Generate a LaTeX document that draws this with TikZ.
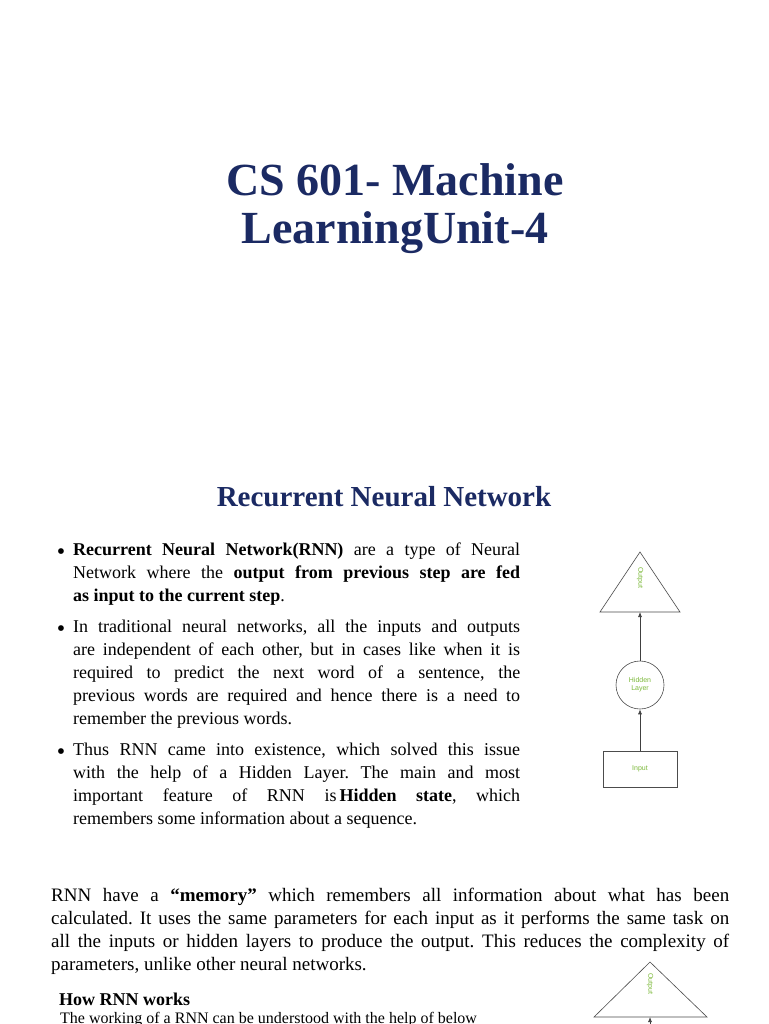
\documentclass[tikz,border=0pt]{standalone}
\usepackage{fontspec}
\setmainfont{Liberation Serif}
\newfontfamily\diagfont{Liberation Sans}
\usetikzlibrary{shapes.geometric,arrows.meta}
\definecolor{navy}{HTML}{1B2A63}
\definecolor{lbl}{HTML}{7CB93A}
\frenchspacing
\tikzset{
  titletxt/.style={text=navy,font=\bfseries\fontsize{46}{50}\selectfont,align=center},
  para/.style={anchor=north west,inner sep=0pt,align=justify,font=\fontsize{18}{23}\selectfont},
  dlabel/.style={text=lbl,font=\diagfont\fontsize{7}{9}\selectfont},
  conn/.style={draw=black!75,line width=0.7pt,-{Latex[length=5pt,width=4pt]}},
  shp/.style={draw=black!70,line width=0.6pt}
}
\begin{document}
\begin{tikzpicture}[x=1pt,y=-1pt]
\useasboundingbox[fill=white] (0,0) rectangle (768,1024);
\node[titletxt] (t1) at (395,180) {CS 601- Machine};
\node[titletxt] (t2) at (395,233) {LearningUnit-4};
\node[text=navy,font=\bfseries\fontsize{29}{32}\selectfont] (h) at (384,497) {Recurrent Neural Network};
\node[para,text width=447pt] (b1) at (73,543) {\textbf{Recurrent Neural Network(RNN)} are a type of Neural\linebreak Network where the \textbf{output from previous step are fed}\linebreak \textbf{as input to the current step}.};
\node[para,text width=447pt] (b2) at (73,620) {In traditional neural networks, all the inputs and outputs\linebreak are independent of each other, but in cases like when it is\linebreak required to predict the next word of a sentence, the\linebreak previous words are required and hence there is a need to\linebreak remember the previous words.};
\node[para,text width=447pt] (b3) at (73,743) {Thus RNN came into existence, which solved this issue\linebreak with the help of a Hidden Layer. The main and most\linebreak important feature of RNN is\,\textbf{Hidden state}, which\linebreak remembers some information about a sequence.};
\foreach \y in {554,631,754} \node[font=\fontsize{24}{24}\selectfont] at (61,\y) {•};
% diagram 1
\coordinate (ta) at (640,552);
\draw[shp] (ta) -- (680,612) -- (600,612) -- cycle;
\node[dlabel,rotate=-90] (out1) at (640,578) {Output};
\coordinate (tb) at (640,612);
\node[shp,circle,minimum size=48pt,inner sep=0pt,dlabel,align=center,font=\diagfont\fontsize{7}{8}\selectfont] (hid) at (640,685) {Hidden\\Layer};
\node[shp,rectangle,minimum width=74pt,minimum height=36pt,dlabel] (inp) at (640,769) {Input};
\draw[conn] (inp.north) -- (hid.south);
\draw[conn] (hid.north) -- (tb);
% paragraph
\node[para,text width=678pt,font=\fontsize{19}{23}\selectfont] (p) at (51,888) {RNN have a \textbf{“memory”} which remembers all information about what has been\linebreak calculated. It uses the same parameters for each input as it performs the same task on\linebreak all the inputs or hidden layers to produce the output. This reduces the complexity of\linebreak parameters, unlike other neural networks.};
\node[anchor=west,inner sep=0pt,font=\bfseries\fontsize{18}{20}\selectfont] (how) at (59,999) {How RNN works};
\node[anchor=west,inner sep=0pt,font=\fontsize{16}{18}\selectfont] (last) at (60,1020) {The working of a RNN can be understood with the help of below};
% diagram 2
\draw[shp] (650,962) -- (707,1017) -- (594,1017) -- cycle;
\node[dlabel,rotate=-90] (out2) at (650,984) {Output};
\coordinate (b2top) at (650,1017);
\coordinate (b2bot) at (650,1030);
\draw[conn] (b2bot) -- (b2top);
\end{tikzpicture}
\end{document}
